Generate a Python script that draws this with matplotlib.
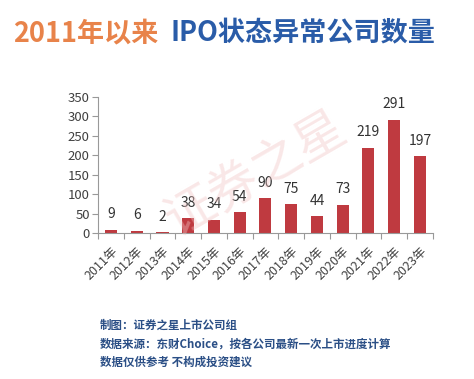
import matplotlib.pyplot as plt

plt.rcParams['font.family'] = ['Noto Sans CJK SC', 'DejaVu Sans']

years = ["2011年", "2012年", "2013年", "2014年", "2015年", "2016年", "2017年",
         "2018年", "2019年", "2020年", "2021年", "2022年", "2023年"]
counts = [9, 6, 2, 38, 34, 54, 90, 75, 44, 73, 219, 291, 197]
yticks = [0, 50, 100, 150, 200, 250, 300, 350]

fig = plt.figure(figsize=(4.74, 3.79), dpi=100)
ax = fig.add_axes([0.207, 0.385, 0.706, 0.36])

# watermark
fig.text(0.54, 0.54, "证券之星", fontsize=36, color="#f2c4c4", alpha=0.4,
         rotation=30, ha="center", va="center", zorder=0)

x = range(len(years))
ax.bar(x, counts, width=0.47, color="#bf3a40", zorder=2)
for xi, v in zip(x, counts):
    ax.annotate(str(v), (xi, v), xytext=(0, 6), textcoords="offset points",
                ha="center", va="bottom", fontsize=10, color="#333333")

ax.set_xlim(-0.5, len(years) - 0.5)
ax.set_ylim(0, 350)
ax.set_yticks(yticks)
ax.set_yticklabels([str(t) for t in yticks], fontsize=9.5, color="#404040")
ax.set_xticks([i - 0.5 for i in range(len(years) + 1)], minor=False)
ax.set_xticklabels([])
ax.set_xticks(list(x), minor=True)
ax.set_xticklabels(years, minor=True, rotation=45, ha="right",
                   rotation_mode="anchor", fontsize=9, color="#404040")
ax.tick_params(axis="x", which="minor", length=0, pad=8)
ax.tick_params(axis="x", which="major", length=4, color="#999999")
ax.tick_params(axis="y", length=4, color="#999999", pad=2)
for side in ["top", "right"]:
    ax.spines[side].set_visible(False)
ax.spines["left"].set_color("#999999")
ax.spines["bottom"].set_color("#999999")
ax.patch.set_alpha(0)

# title
fig.text(0.028, 0.912, "2011年以来", fontsize=19.5, fontweight="bold",
         color="#e8834a", ha="left", va="center")
fig.text(0.360, 0.912, "IPO状态异常公司数量", fontsize=19.5, fontweight="bold",
         color="#2a5ca8", ha="left", va="center")

# notes
notes = ["制图：证券之星上市公司组",
         "数据来源：东财Choice，按各公司最新一次上市进度计算",
         "数据仅供参考 不构成投资建议"]
for i, line in enumerate(notes):
    fig.text(0.211, 0.142 - i * 0.049, line, fontsize=8.3, fontweight="bold",
             color="#2b4f86", ha="left", va="center")

fig.savefig("out.png", dpi=100)
